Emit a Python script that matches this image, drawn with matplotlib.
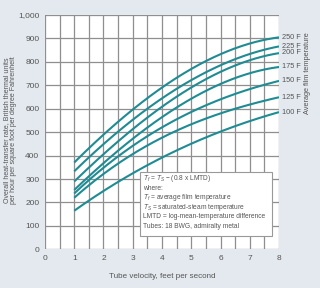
import numpy as np
import matplotlib
matplotlib.use("Agg")
import matplotlib.pyplot as plt
from matplotlib.patches import Rectangle

# tube velocity, ft/s
velocity = [1, 2, 3, 4, 5, 6, 7, 8]

# heat-transfer rate, one list per film temperature
u_250 = [370, 490, 598, 688, 768, 837, 876, 905]
u_225 = [332, 450, 555, 641, 720, 790, 832, 866]
u_200 = [290, 405, 513, 609, 690, 759, 805, 838]
u_175 = [255, 365, 470, 567, 645, 705, 748, 780]
u_150 = [240, 345, 440, 524, 588, 638, 682, 720]
u_125 = [222, 318, 405, 481, 535, 577, 617, 650]
u_100 = [164, 250, 325, 390, 450, 503, 548, 585]

series = [u_250, u_225, u_200, u_175, u_150, u_125, u_100]
labels = ["250 F", "225 F", "200 F", "175 F", "150 F", "125 F", "100 F"]

y_ticks = [0, 100, 200, 300, 400, 500, 600, 700, 800, 900, 1000]
y_ticklabels = ["0", "100", "200", "300", "400", "500", "600", "700", "800", "900", "1,000"]
x_ticks = [0, 1, 2, 3, 4, 5, 6, 7, 8]

note_lines = [
    r"$T_f$ = $T_S$ $-$ (0.8 x LMTD)",
    "where:",
    r"$T_f$ = average film temperature",
    r"$T_S$ = saturated-steam temperature",
    "LMTD = log-mean-temperature difference",
    "Tubes: 18 BWG, admiralty metal",
]

plt.rcParams['font.family'] = ['Liberation Sans Narrow', 'Liberation Sans', 'DejaVu Sans']
plt.rcParams['mathtext.fontset'] = 'custom'
plt.rcParams['mathtext.it'] = 'Liberation Sans:italic'
plt.rcParams['mathtext.rm'] = 'Liberation Sans'

bg = "#e3e9ee"
teal = "#1f8b93"
txt = "#555555"

fig = plt.figure(figsize=(3.2, 2.88), dpi=100, facecolor=bg)
ax = fig.add_axes([0.1406, 0.1344, 0.7313, 0.8135])
ax.set_facecolor("white")

# grid: every 0.5 on x, every 100 on y
for gx in np.arange(0, 8.01, 0.5):
    ax.axvline(gx, color="#8f8f8f", lw=0.9, zorder=1)
for gy in y_ticks:
    ax.axhline(gy, color="#8f8f8f", lw=0.9, zorder=1)

xs = np.linspace(1, 8, 200)
for vals, lab in zip(series, labels):
    coef = np.polyfit(velocity, vals, 3)
    ax.plot(xs, np.polyval(coef, xs), color=teal, lw=1.5, zorder=3, solid_capstyle="butt")
    ax.annotate(lab, xy=(8, vals[-1]), xytext=(2.5, 0), textcoords="offset points",
                ha="left", va="center", fontsize=5.3, color=txt, annotation_clip=False)

ax.set_xlim(0, 8)
ax.set_ylim(0, 1000)
ax.set_xticks(x_ticks)
ax.set_yticks(y_ticks)
ax.set_yticklabels(y_ticklabels)
ax.tick_params(length=0, labelsize=6, colors=txt, pad=4)
for s in ax.spines.values():
    s.set_visible(False)

ax.set_xlabel("Tube velocity, feet per second", fontsize=5.8, color=txt, labelpad=8)
ax.set_ylabel("Overall heat-transfer rate, British thermal units\n"
              "per hour per square foot per degree Fahrenheit",
              fontsize=5.0, color=txt, linespacing=1.0)
ax.yaxis.set_label_coords(-0.12, 0.51)

fig.text(0.962, 0.745, "Average film temperature", rotation=90, fontsize=5.3,
         color=txt, ha="center", va="center")

# note box
ax.add_patch(Rectangle((3.25, 55), 4.5, 275, fc="white", ec="#999999", lw=0.8, zorder=4))
for i, line in enumerate(note_lines):
    ax.text(3.35, 302 - i * 41, line, fontsize=4.8, color=txt, va="center",
            ha="left", zorder=5)

fig.savefig("out.png", dpi=100, facecolor=bg)
